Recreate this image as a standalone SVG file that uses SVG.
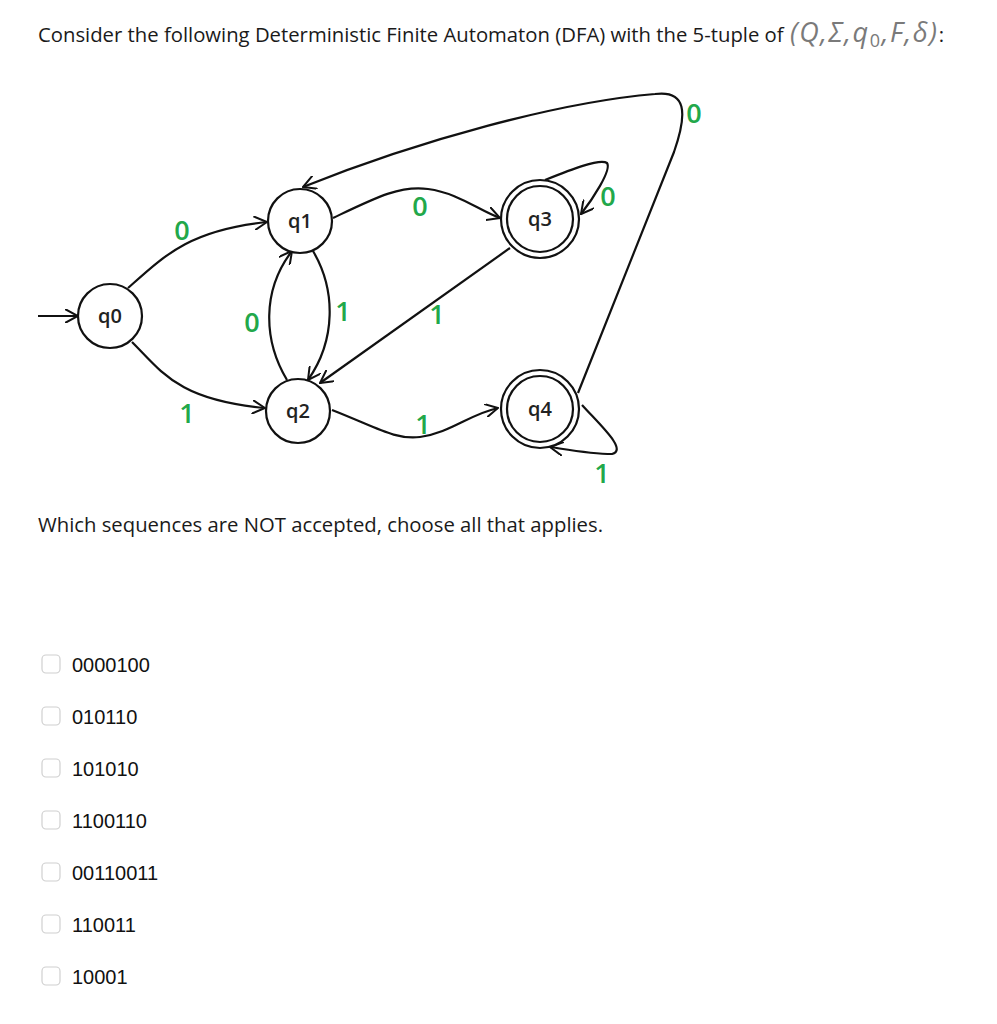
<svg xmlns="http://www.w3.org/2000/svg" width="997" height="1024" viewBox="0 0 997 1024">
<style>
.t{font-family:"Open Sans","Liberation Sans",sans-serif;font-size:20.3px;fill:#1a1a1a}
.tup{font-family:"Open Sans","DejaVu Sans",sans-serif;font-style:italic;font-size:27px;fill:#7a7a7a;letter-spacing:1.6px}
.opt{font-family:"Liberation Sans",Arial,sans-serif;font-size:20px;fill:#111}
.cb{fill:#fff;stroke:#d0d0d0;stroke-width:1.2}
.st{fill:#fff;stroke:#111;stroke-width:2.2}
.nl{font-family:"Open Sans","Liberation Sans",sans-serif;font-weight:600;font-size:20px;fill:#222;text-anchor:middle}
.e{fill:none;stroke:#111;stroke-width:2.2}
.lb{font-family:"Open Sans","Liberation Sans",sans-serif;font-weight:600;font-size:27px;fill:#22a84a;text-anchor:middle}
</style>
<defs>
<marker id="ah" viewBox="0 0 14 14" refX="13" refY="7" markerWidth="14" markerHeight="14" markerUnits="userSpaceOnUse" orient="auto">
<path d="M0,0 L13,7 L0,14" fill="none" stroke="#111" stroke-width="2"/>
</marker>
</defs>
<rect width="997" height="1024" fill="#fff"/>
<text class="t" x="38" y="42">Consider the following Deterministic Finite Automaton (DFA) with the 5-tuple of <tspan class="tup" dx="1">(Q,Σ,q<tspan font-size="18" font-style="normal" dy="5">0</tspan><tspan dy="-5">,F,δ)</tspan></tspan>:</text>

<g id="connectors">
<path class="e" d="M38,316 L78,316" marker-end="url(#ah)"/>
<path class="e" d="M128,288 C165,255 190,230 267,222" marker-end="url(#ah)"/>
<path class="e" d="M132,342 C162,372 178,400 265,408" marker-end="url(#ah)"/>
<path class="e" d="M287,380 C263,340 262,290 292,251" marker-end="url(#ah)"/>
<path class="e" d="M313,251 C336,290 336,340 308,380" marker-end="url(#ah)"/>
<path class="e" d="M510,248 L320,383" marker-end="url(#ah)"/>
<path class="e" d="M333,218 C375,198 400,185 428,189 C458,193 478,210 500,218" marker-end="url(#ah)"/>
<path class="e" d="M545,180 C570,170 600,158 607,163 C612,170 592,200 581,214" marker-end="url(#ah)"/>
<path class="e" d="M578,393 L674,152 C688,112 686,90 655,94 C560,102 420,140 303,187" marker-end="url(#ah)"/>
<path class="e" d="M332,410 C378,428 395,440 420,437 C450,433 470,414 498,408" marker-end="url(#ah)"/>
<path class="e" d="M582,405 C600,425 628,450 612,454 C592,454 570,450 550,447" marker-end="url(#ah)"/>
</g>
<g id="edge-labels">
<text class="lb" x="182" y="240">0</text>
<text class="lb" x="187" y="423">1</text>
<text class="lb" x="252" y="332">0</text>
<text class="lb" x="343" y="321">1</text>
<text class="lb" x="437" y="324">1</text>
<text class="lb" x="420" y="216">0</text>
<text class="lb" x="608" y="206">0</text>
<text class="lb" x="694" y="123">0</text>
<text class="lb" x="423" y="434">1</text>
<text class="lb" x="602" y="483">1</text>
</g>

<g id="q0"><circle class="st" cx="110" cy="316" r="32"/><text class="nl" x="110" y="323">q0</text></g>
<g id="q1"><circle class="st" cx="300" cy="221" r="32"/><text class="nl" x="300" y="228">q1</text></g>
<g id="q2"><circle class="st" cx="298" cy="411" r="32"/><text class="nl" x="298" y="418">q2</text></g>
<g id="q3"><circle class="st" cx="540" cy="219" r="39"/><circle class="st" cx="540" cy="219" r="33"/><text class="nl" x="540" y="226">q3</text></g>
<g id="q4"><circle class="st" cx="540" cy="409" r="39"/><circle class="st" cx="540" cy="409" r="33"/><text class="nl" x="540" y="416">q4</text></g>

<text class="t" x="38" y="532">Which sequences are NOT accepted, choose all that applies.</text>

<g id="options">
<rect class="cb" x="42" y="655" width="18" height="18" rx="4"/><text class="opt" x="72" y="672">0000100</text>
<rect class="cb" x="42" y="707" width="18" height="18" rx="4"/><text class="opt" x="72" y="724">010110</text>
<rect class="cb" x="42" y="759" width="18" height="18" rx="4"/><text class="opt" x="72" y="776">101010</text>
<rect class="cb" x="42" y="811" width="18" height="18" rx="4"/><text class="opt" x="72" y="828">1100110</text>
<rect class="cb" x="42" y="863" width="18" height="18" rx="4"/><text class="opt" x="72" y="880">00110011</text>
<rect class="cb" x="42" y="915" width="18" height="18" rx="4"/><text class="opt" x="72" y="932">110011</text>
<rect class="cb" x="42" y="967" width="18" height="18" rx="4"/><text class="opt" x="72" y="984">10001</text>
</g>
</svg>
